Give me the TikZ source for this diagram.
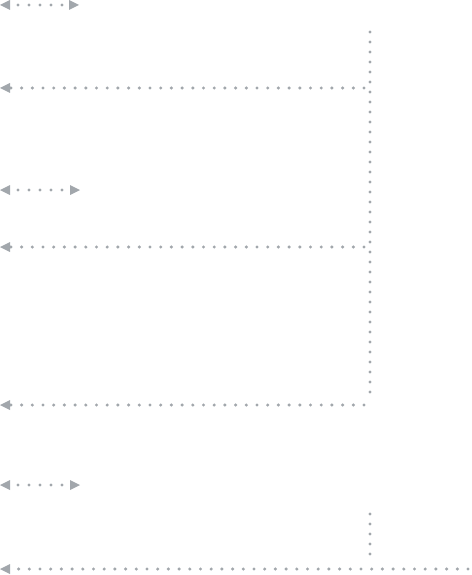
\documentclass[tikz,border=0pt]{standalone}
\usepackage{xcolor}
\usepackage{tikz}
\usetikzlibrary{arrows.meta, positioning, calc}
\definecolor{linegray}{RGB}{162,167,172}

\begin{document}
\begin{tikzpicture}[
   x = 1pt, y = -1pt,
   >= {Triangle[length=10pt, width=10pt, line width=0pt, fill=linegray]},
   dotline/.style = {draw=linegray, line width=3.4pt, line cap=round, dash pattern=on 0pt off 10.7pt},
   shortline/.style = {dotline, dash pattern=on 0pt off 11pt, dash phase=3pt},
   vline/.style = {dotline, dash pattern=on 0pt off 10pt}
   ]
  \useasboundingbox (0,0) rectangle (471,575);

  % Short arrows
  \coordinate (topL) at (0,5);
  \coordinate (topR) at (79,5);
  \coordinate (midL) at (0,190);
  \coordinate (midR) at (80,190);
  \coordinate (lowL) at (0,485);
  \coordinate (lowR) at (80,485);

  % Bus and branches
  \coordinate (busTop) at (370,32);
  \coordinate (busBot) at (370,400);
  \coordinate (branchA) at (364,88);
  \coordinate (endA) at (0,88);
  \coordinate (branchB) at (364,247);
  \coordinate (endB) at (0,247);
  \coordinate (branchC) at (364,405);
  \coordinate (endC) at (0,405);

  % Bottom line
  \coordinate (stubTop) at (370,514);
  \coordinate (stubBot) at (370,564);
  \coordinate (baseR) at (468,569);
  \coordinate (baseL) at (0,569);

  % Arrows
  \draw[shortline, <->] (topL) -- (topR);
  \draw[shortline, <->] (midL) -- (midR);
  \draw[shortline, <->] (lowL) -- (lowR);
  \draw[vline] (busTop) -- (busBot);
  \draw[dotline, ->] (branchA) -- (endA);
  \draw[dotline, ->] (branchB) -- (endB);
  \draw[dotline, ->] (branchC) -- (endC);
  \draw[vline] (stubTop) -- (stubBot);
  \draw[dotline, ->] (baseR) -- (baseL);
\end{tikzpicture}
\end{document}
